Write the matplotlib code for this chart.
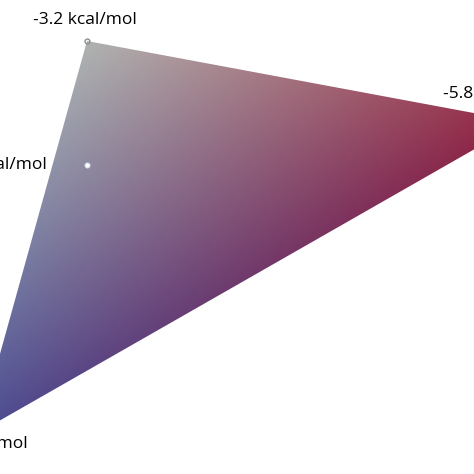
import numpy as np
import matplotlib.pyplot as plt
from matplotlib.patches import Polygon

# triangle vertices (pixel coords of the picture), top / right / bottom-left
vert_x = [87, 522, -22]
vert_y = [41, 122, 433]
vert_rgb = np.array([[176, 179, 177], [148, 36, 66], [76, 78, 148]]) / 255.0
labels = ['-3.2 kcal/mol', '-5.8 kcal/mol', '-4.1 kcal/mol', '-2.7 kcal/mol']
label_x = [33, 443, 47, 28]
label_y = [20, 94, 165, 444]
label_ha = ['left', 'left', 'right', 'right']
dot_x = [87]
dot_y = [165]

W = H = 474
fig = plt.figure(figsize=(4.74, 4.74), dpi=100)
ax = fig.add_axes([0, 0, 1, 1])
ax.set_xlim(0, W)
ax.set_ylim(H, 0)
ax.axis('off')

# barycentric colour blend over the pixel grid
xx, yy = np.meshgrid(np.arange(W) + 0.5, np.arange(H) + 0.5)
(x1, x2, x3), (y1, y2, y3) = vert_x, vert_y
det = (y2 - y3) * (x1 - x3) + (x3 - x2) * (y1 - y3)
l1 = ((y2 - y3) * (xx - x3) + (x3 - x2) * (yy - y3)) / det
l2 = ((y3 - y1) * (xx - x3) + (x1 - x3) * (yy - y3)) / det
l3 = 1 - l1 - l2
img = (l1[..., None] * vert_rgb[0] + l2[..., None] * vert_rgb[1]
       + l3[..., None] * vert_rgb[2])
img = np.clip(img, 0, 1)

im = ax.imshow(img, extent=(0, W, H, 0), interpolation='bilinear')
tri = Polygon(np.column_stack([vert_x, vert_y]), closed=True,
              facecolor='none', edgecolor='none')
ax.add_patch(tri)
im.set_clip_path(tri)

ax.scatter(dot_x, dot_y, s=14, color='white', edgecolors='#c8d8e0',
           linewidths=0.6, zorder=3)
ax.plot([vert_x[0]], [vert_y[0]], marker='o', ms=3.5, mfc='none',
        mec='#8a8f94', mew=1.0, zorder=3)

for t, x, y, ha in zip(labels, label_x, label_y, label_ha):
    ax.text(x, y, t, ha=ha, va='center', fontsize=12.5,
            family=['Open Sans', 'DejaVu Sans'], color='#000000')

fig.savefig('out.png', dpi=100)
